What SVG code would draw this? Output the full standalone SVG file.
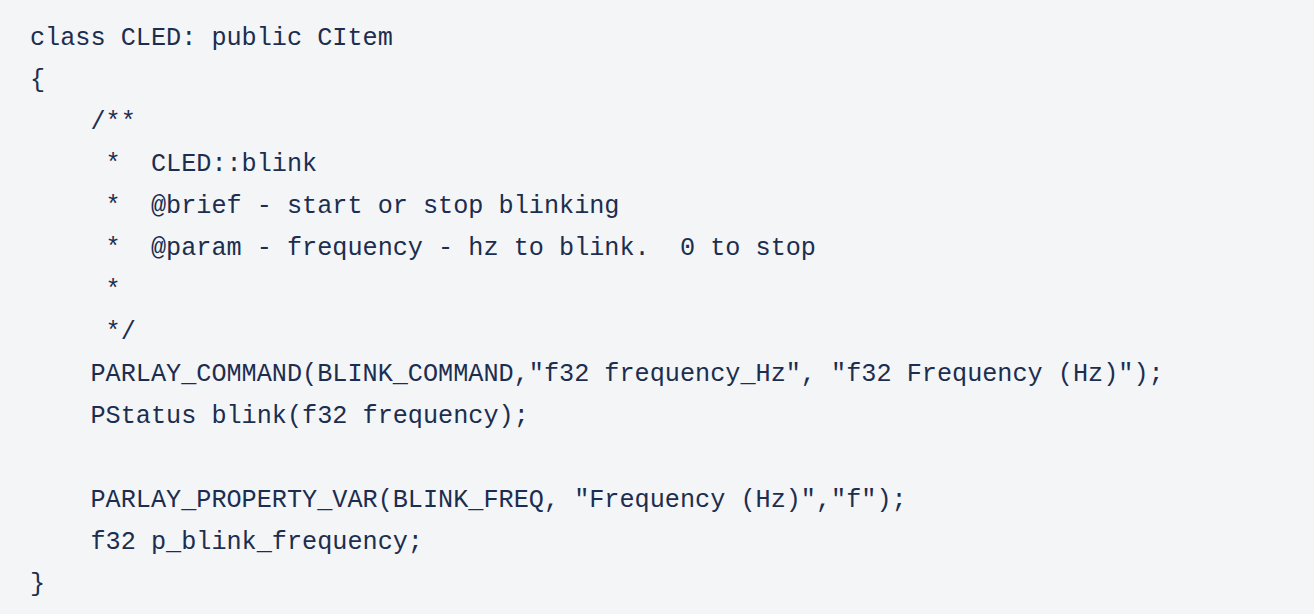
<svg xmlns="http://www.w3.org/2000/svg" width="1314" height="614" viewBox="0 0 1314 614">
<style>text{font-family:"Liberation Mono","DejaVu Sans Mono",monospace;font-size:25.2px;fill:#1c2e4f;white-space:pre}</style>
<rect width="1314" height="614" fill="#f4f5f7"/>
<g id="code" xml:space="preserve">
<text x="30" y="45">class CLED: public CItem</text>
<text x="30" y="87">{</text>
<text x="30" y="129">    /**</text>
<text x="30" y="171">     *  CLED::blink</text>
<text x="30" y="213">     *  @brief - start or stop blinking</text>
<text x="30" y="255">     *  @param - frequency - hz to blink.  0 to stop</text>
<text x="30" y="297">     *</text>
<text x="30" y="339">     */</text>
<text x="30" y="381">    PARLAY_COMMAND(BLINK_COMMAND,"f32 frequency_Hz", "f32 Frequency (Hz)");</text>
<text x="30" y="423">    PStatus blink(f32 frequency);</text>
<text x="30" y="507">    PARLAY_PROPERTY_VAR(BLINK_FREQ, "Frequency (Hz)","f");</text>
<text x="30" y="549">    f32 p_blink_frequency;</text>
<text x="30" y="591">}</text>
</g>
</svg>
